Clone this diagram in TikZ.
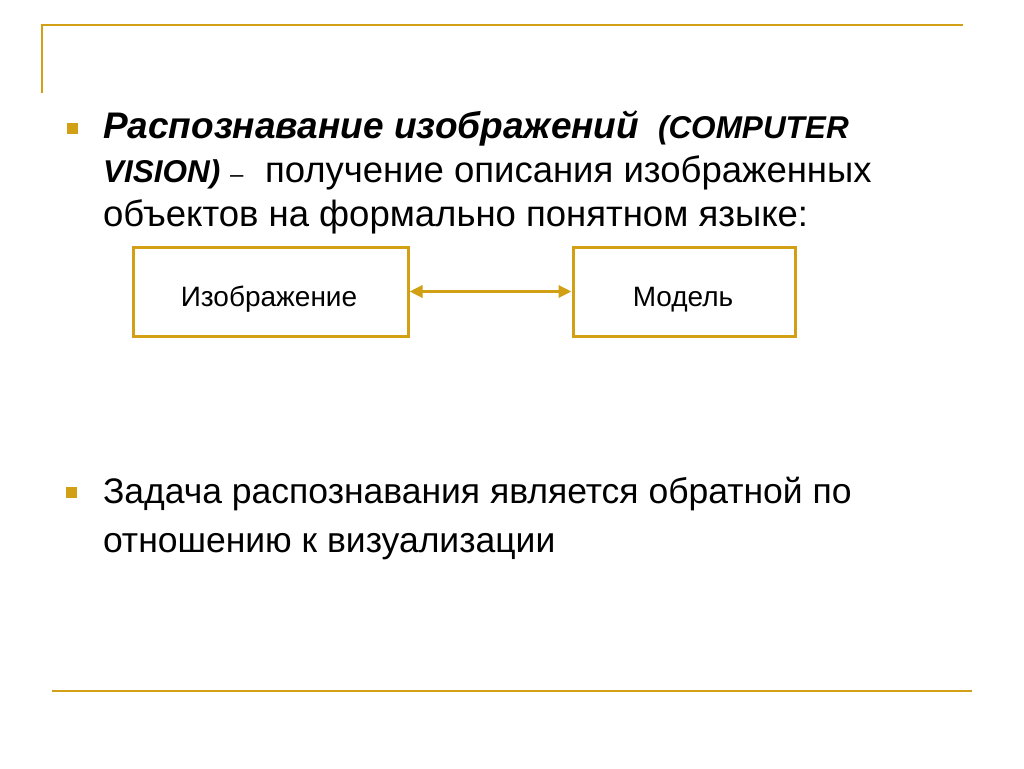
\documentclass[tikz,border=0pt]{standalone}
\usepackage{fontspec}
\setmainfont{Liberation Sans}
\usetikzlibrary{arrows.meta}
\definecolor{gold}{RGB}{210,160,20}
\newcommand{\fs}[1]{\fontsize{#1}{#1}\selectfont}
\begin{document}
\begin{tikzpicture}[x=1pt,y=-1pt,
  txt/.style={anchor=base west,inner sep=0pt,outer sep=0pt},
  bul/.style={fill=gold,draw=none,minimum size=11pt,inner sep=0pt},
  boxn/.style={draw=gold,line width=3pt,minimum width=275pt,minimum height=89pt,inner sep=0pt},
  rule/.style={draw=gold,line width=2pt}]
\useasboundingbox (0,0) rectangle (1024,768);
\fill[white] (0,0) rectangle (1024,768);
% frame lines
\coordinate (tl) at (42,25);
\coordinate (tr) at (963,25);
\coordinate (vb) at (42,93);
\coordinate (bl) at (52,691);
\coordinate (br) at (972,691);
\draw[rule] (vb) -- (tl) -- (tr);
\draw[rule] (bl) -- (br);
% bullets
\node[bul] (b1) at (72,128) {};
\node[bul] (b2) at (71,492) {};
% paragraph 1
\node[txt] (l1a) at (103,138) {\fs{37}\textbf{\textit{Распознавание изображений}}};
\node[txt] (l1b) at (658,138) {\fs{31.5}\textbf{\textit{(COMPUTER}}};
\node[txt] (l2a) at (103,182) {\fs{31.5}\textbf{\textit{VISION)}}};
\node[txt] (l2d) at (230,182) {\fs{24}–};
\node[txt] (l2b) at (265,182) {\fs{36.5}получение описания изображенных};
\node[txt] (l3) at (103,226) {\fs{36.5}объектов на формально понятном языке:};
% boxes
\node[boxn] (img) at (270.5,291.5) {};
\node[boxn,minimum width=222pt] (mod) at (684,291.5) {};
\node[txt,anchor=base] (imgt) at (269,306) {\fs{28}Изображение};
\node[txt,anchor=base] (modt) at (683,306) {\fs{28}Модель};
\draw[draw=gold,fill=gold,line width=3.5pt,{Triangle[length=13pt,width=12pt]}-{Triangle[length=13pt,width=12pt]}] (img.east) -- (mod.west);
% paragraph 2
\node[txt] (m1) at (103,503) {\fs{35.5}Задача распознавания является обратной по};
\node[txt] (m2) at (103,552) {\fs{35.5}отношению к визуализации};
\end{tikzpicture}
\end{document}
